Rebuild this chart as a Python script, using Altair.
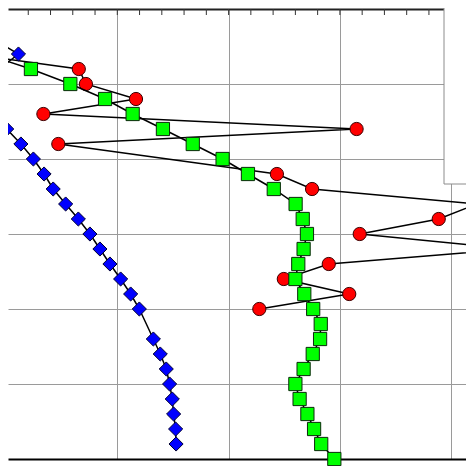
import altair as alt
import pandas as pd

# ---- data (x in minor-tick units, depth in rows) ----
red_depth = [3, 4, 5, 6, 7, 8, 9, 11, 12, 13, 14, 15, 16, 17, 18, 19, 20]
red_x = [-1.57, 3.27, 3.59, 5.84, 1.68, 15.75, 2.35, 12.17, 13.75, 21.16,
         19.44, 15.89, 22.64, 14.50, 12.48, 15.42, 11.38]

blue_depth = [2, 3, 4, 5, 6, 7, 8, 9, 10, 11, 12, 13, 14, 15, 16, 17, 18, 19,
              20, 22, 23, 24, 25, 26, 27, 28, 29]
blue_x = [-0.58, 0.56, -0.31, -1.17, -1.17, -0.45, 0.03, 0.67, 1.23, 1.71,
          2.12, 2.68, 3.25, 3.77, 4.22, 4.67, 5.15, 5.60, 5.99, 6.62, 6.93,
          7.20, 7.35, 7.47, 7.53, 7.62, 7.64]

green_depth = [3, 4, 5, 6, 7, 8, 9, 10, 11, 12, 13, 14, 15, 16, 17, 18, 19,
               20, 21, 22, 23, 24, 25, 26, 27, 28, 29, 30]
green_x = [-0.94, 1.12, 2.89, 4.45, 5.69, 7.05, 8.39, 9.73, 10.87, 12.03,
           13.01, 13.33, 13.52, 13.37, 13.13, 13.00, 13.40, 13.80, 14.14,
           14.11, 13.78, 13.37, 13.00, 13.19, 13.54, 13.84, 14.16, 14.75]

x_grid = [5, 10, 15, 20]
x_minor = list(range(1, 22))
y_grid = [5, 10, 15, 20, 25]
legend_rows = 4

xs = alt.Scale(domain=[0.09, 20.665], nice=False, zero=False)
ys = alt.Scale(domain=[0, 30], reverse=True, nice=False, zero=False)
y_axis = alt.Axis(values=y_grid, grid=True, gridColor="#9a9a9a", gridWidth=1,
                  domain=False, ticks=False, labels=False, title=None)


def df(xv, dv):
    return pd.DataFrame({"x": xv, "depth": dv})


def series(xv, dv, fill, stroke, shape, size):
    d = df(xv, dv)
    line = alt.Chart(d).mark_line(color="black", strokeWidth=1.5).encode(
        x=alt.X("x:Q", scale=xs, axis=None),
        y=alt.Y("depth:Q", scale=ys, axis=y_axis),
        order="depth:Q",
    )
    pts = alt.Chart(d).mark_point(shape=shape, filled=True, fill=fill, stroke=stroke,
                                  strokeWidth=1, size=size, opacity=1).encode(
        x=alt.X("x:Q", scale=xs, axis=None),
        y=alt.Y("depth:Q", scale=ys, axis=y_axis),
    )
    return [line, pts]


bottom_axis = alt.Chart(pd.DataFrame({"x": x_grid})).mark_rule(opacity=0).encode(
    x=alt.X("x:Q", scale=xs,
            axis=alt.Axis(orient="bottom", values=x_grid, grid=True, gridColor="#9a9a9a",
                          gridWidth=1, ticks=False, labels=False, domainColor="black",
                          domainWidth=2, title=None)),
)
top_axis = alt.Chart(pd.DataFrame({"x": x_minor})).mark_rule(color="#333", strokeWidth=1).encode(
    x=alt.X("x:Q", scale=xs,
            axis=alt.Axis(orient="top", grid=False, ticks=False, labels=False,
                          domainColor="#222", domainWidth=2, title=None)),
    y=alt.value(0),
    y2=alt.value(6),
)

layers = [bottom_axis, top_axis]
layers += series(red_x, red_depth, "#ff0000", "#3a0000", "circle", 175)
layers += series(blue_x, blue_depth, "#0000ff", "#000033", "diamond", 200)
layers += series(green_x, green_depth, "#00ff00", "#0a2a0a", "square", 175)

legend_box = alt.Chart(pd.DataFrame({"a": [0]})).mark_rect(
    fill="white", stroke="#8c8c8c", strokeWidth=1).encode(
    x=alt.value(436), x2=alt.value(490), y=alt.value(-12), y2=alt.value(175))
layers.append(legend_box)
for i in range(legend_rows):
    layers.append(
        alt.Chart(pd.DataFrame({"a": [i]})).mark_rule(color="black", strokeWidth=1.5).encode(
            x=alt.value(459), x2=alt.value(475), y=alt.value(14 + 46.7 * i))
    )

chart = alt.layer(*layers).resolve_axis(x="independent").properties(
    width=458, height=450,
    padding={"left": 0, "top": 1, "right": 0, "bottom": 7},
    autosize=alt.AutoSizeParams(type="none"),
    background="white",
).configure_view(stroke=None)

chart.save("out.html", embed_options={"renderer": "svg", "actions": False})
